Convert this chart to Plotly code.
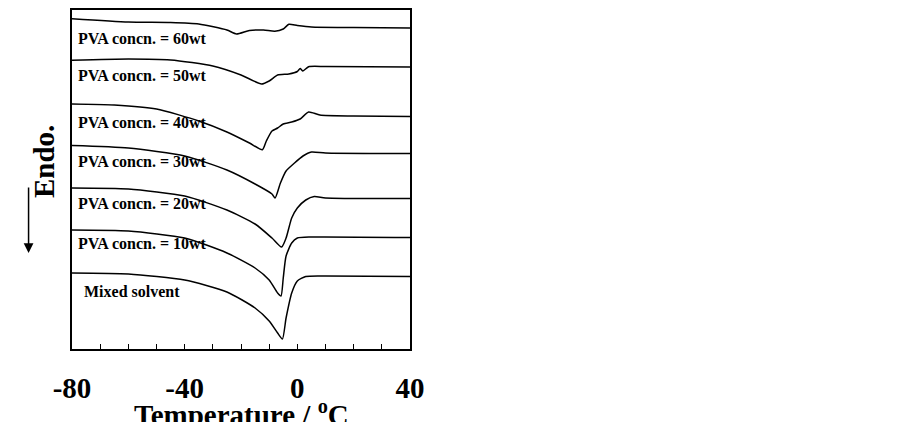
import plotly.graph_objects as go

# curves: temperature (C) and vertical offset (px from top)
t60 = [-80, -60, -45, -35, -25, -21.6, -17, -12, -8, -5, -3, 0, 5, 20, 40]
y60 = [10.7, 14, 14.5, 16, 22, 26, 22.5, 22, 23.3, 21, 16.3, 17.5, 19, 19.5, 20]
t50 = [-80, -60, -45, -30, -20, -12.7, -10, -7, -3, 0, 1, 2, 4, 10, 40]
y50 = [52.3, 51, 52, 58, 67, 76, 73, 67, 66, 63.5, 60.5, 63, 58.7, 58.5, 59]
t40 = [-80, -65, -50, -35, -25, -17, -12.4, -11, -9, -7, -5, -2, 1, 4, 8, 20, 40]
y40 = [96, 97, 101, 113, 124, 135, 141.7, 133, 123, 120, 116, 114, 111, 104, 107, 108, 108.5]
t30 = [-80, -60, -40, -25, -15, -9, -7.9, -6, -4, -1, 2, 5, 10, 40]
y30 = [137.5, 140, 148, 162, 176, 186, 190, 175, 163, 155, 148, 144, 145, 145.5]
t20 = [-80, -60, -40, -25, -15, -9, -5.6, -4, -2, 0, 3, 6, 10, 40]
y20 = [180, 181, 188, 202, 216, 230, 239, 230, 210, 200, 192, 188.5, 190, 190.5]
t10 = [-80, -60, -40, -25, -15, -10, -7, -5.8, -5, -4, -2, 0, 5, 40]
y10 = [222, 223, 230, 245, 260, 272, 285, 288, 270, 248, 235, 230, 229, 229.5]
tmix = [-80, -60, -40, -25, -15, -10, -7, -5.3, -4, -2, 0, 3, 10, 40]
ymix = [265, 266, 272, 284, 300, 313, 325, 331, 310, 285, 273, 268.5, 268, 268.5]

labels = ["PVA concn. = 60wt", "PVA concn. = 50wt", "PVA concn. = 40wt",
          "PVA concn. = 30wt", "PVA concn. = 20wt", "PVA concn. = 10wt", "Mixed solvent"]
label_y = [30, 67, 114, 153, 195, 235, 283]
label_x = [-78.7, -78.7, -78.7, -78.7, -78.7, -78.7, -76.5]

serif = "Liberation Serif"
fig = go.Figure()
for t, y in [(t60, y60), (t50, y50), (t40, y40), (t30, y30), (t20, y20), (t10, y10), (tmix, ymix)]:
    fig.add_trace(go.Scatter(x=t, y=[-v for v in y], mode="lines",
                             line=dict(color="black", width=1.5, shape="spline", smoothing=0.6),
                             showlegend=False))

for txt, lx, ly in zip(labels, label_x, label_y):
    fig.add_annotation(x=lx, y=-ly, text=txt, showarrow=False, xanchor="left",
                       font=dict(family=serif, size=16, color="black", weight="bold"))

tv = list(range(-80, 41, 10))
fig.update_xaxes(range=[-80, 40], tickvals=tv,
                 ticktext=[str(v) if v % 40 == 0 else "" for v in tv],
                 ticks="inside", ticklen=5, tickcolor="black", showgrid=False, zeroline=False,
                 showline=True, linecolor="black", linewidth=1.5, mirror=True,
                 tickfont=dict(family=serif, size=29, color="black", weight="bold"),
                 ticklabelstandoff=12)
fig.update_yaxes(range=[-341, -2], showticklabels=False, ticks="", showgrid=False, zeroline=False,
                 showline=True, linecolor="black", linewidth=1.5, mirror=True)

fig.add_annotation(xref="paper", yref="paper", x=0.5, y=-0.19, yanchor="middle",
                   text="Temperature / <sup>o</sup>C", showarrow=False,
                   font=dict(family=serif, size=29, color="black", weight="bold"))
fig.add_annotation(xref="paper", yref="paper", x=-0.134, y=0.667, text="Endo.", textangle=-90,
                   showarrow=False, font=dict(family=serif, size=29, color="black", weight="bold"))
fig.add_annotation(xref="paper", yref="paper", x=-0.1285, y=0.283, ax=0, ay=-67, text="",
                   showarrow=True, arrowhead=2, arrowsize=1.3, arrowwidth=1.5, arrowcolor="black")

fig.update_layout(width=903, height=422,
                  margin=dict(l=63.5, r=501, t=2, b=81, autoexpand=False),
                  plot_bgcolor="white", paper_bgcolor="white")
fig.write_html("out.html")
